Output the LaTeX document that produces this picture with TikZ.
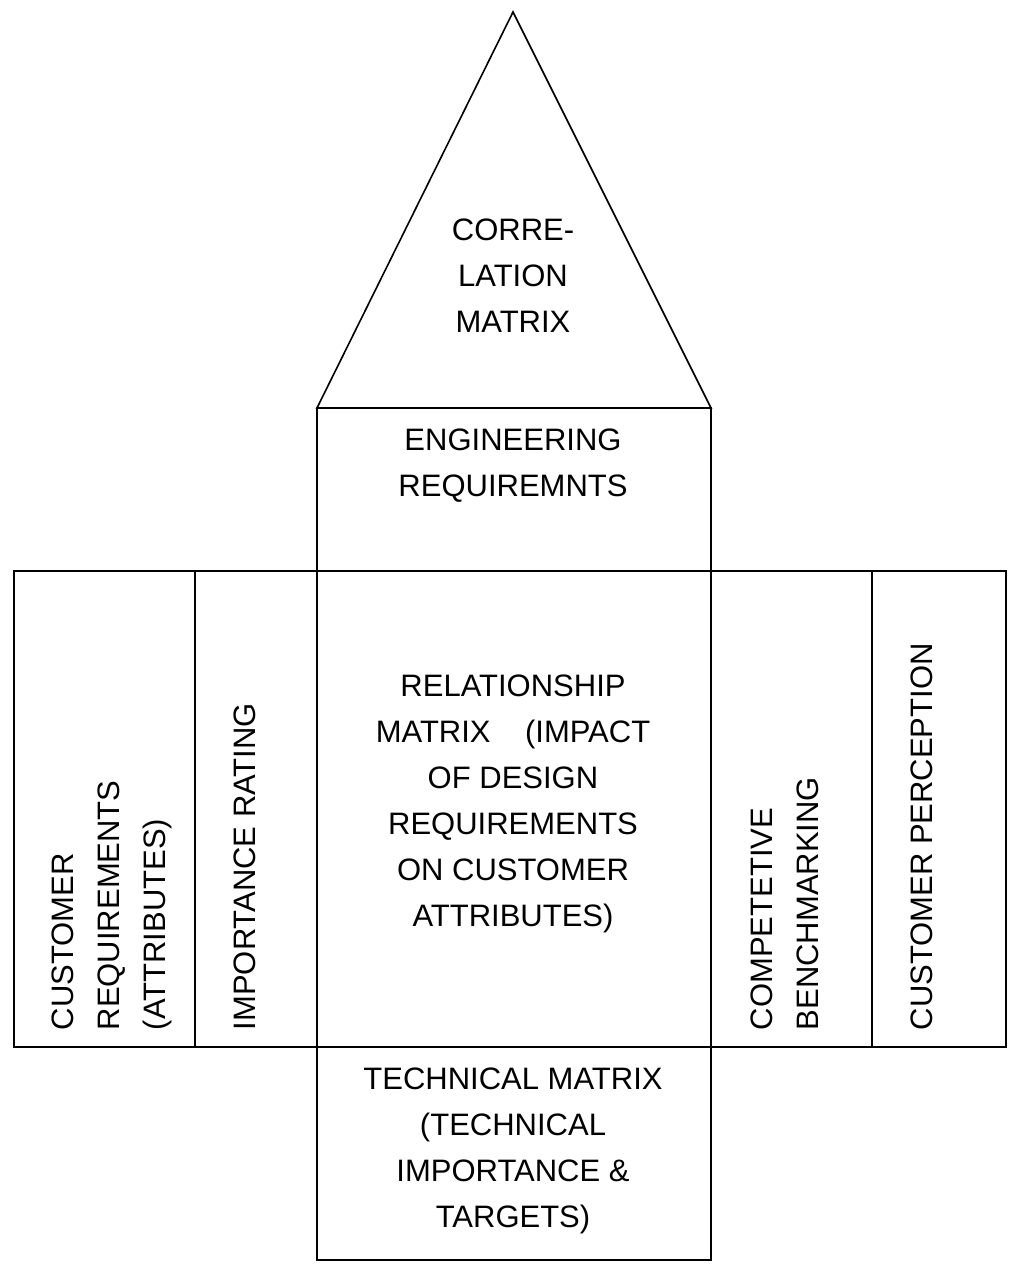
\documentclass[tikz,border=0pt]{standalone}
\usepackage{fontspec}
\setmainfont{Liberation Sans}
\begin{document}
\begin{tikzpicture}[x=1pt,y=-1pt,line width=1.6pt,
 txt/.style={font=\fontsize{31}{46}\selectfont,align=center,inner sep=0pt},
 vtxt/.style={font=\fontsize{31}{46}\selectfont,align=left,inner sep=0pt,rotate=90,anchor=west}]
\useasboundingbox (0,0) rectangle (1033,1273);
\coordinate (apex) at (513,12);
\coordinate (bl) at (317,408);
\coordinate (br) at (711,408);
\draw (bl) -- (apex) -- (br) -- cycle;
\draw (317,408) rectangle (711,571);
\draw (14,571) rectangle (1006,1047);
\draw (195,571) -- (195,1047);
\draw (317,571) -- (317,1047);
\draw (711,571) -- (711,1047);
\draw (872,571) -- (872,1047);
\draw (317,1047) rectangle (711,1260);
\node[txt] (corr) at (513,276) {CORRE-\\LATION\\MATRIX};
\node[txt] (eng) at (513,466) {ENGINEERING\\REQUIREMNTS};
\node[txt] (rel) at (513,804) {RELATIONSHIP\\MATRIX\ \ \ \ (IMPACT\\OF DESIGN\\REQUIREMENTS\\ON CUSTOMER\\ATTRIBUTES)};
\node[txt] (tech) at (513,1151) {TECHNICAL MATRIX\\(TECHNICAL\\IMPORTANCE \&\\TARGETS)};
\node[vtxt] (cust) at (112,1031) {CUSTOMER\\REQUIREMENTS\\(ATTRIBUTES)};
\node[vtxt] (imp) at (245,1031) {IMPORTANCE RATING};
\node[vtxt] (comp) at (785,1031) {COMPETETIVE\\BENCHMARKING};
\node[vtxt] (perc) at (922,1031) {CUSTOMER PERCEPTION};
\end{tikzpicture}
\end{document}
